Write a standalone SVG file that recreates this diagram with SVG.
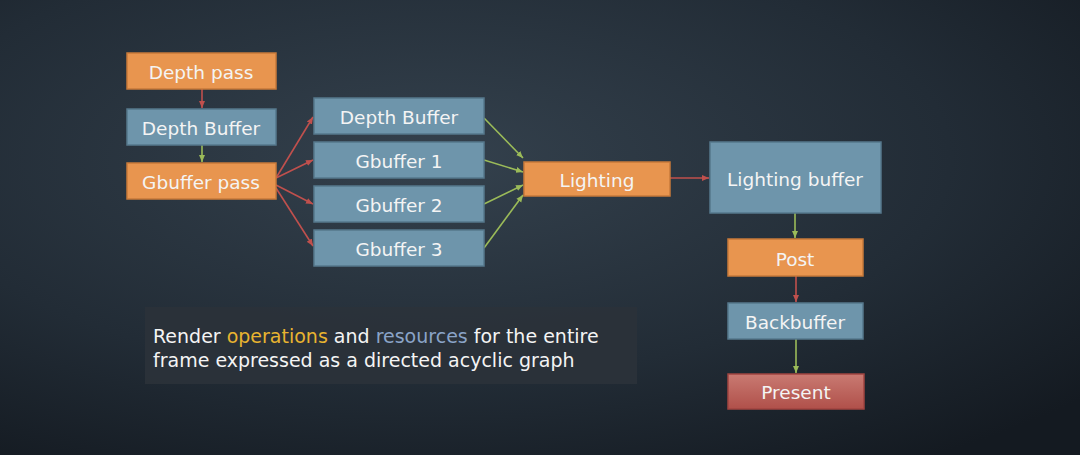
<svg xmlns="http://www.w3.org/2000/svg" width="1080" height="455" viewBox="0 0 1080 455">
<defs>
<radialGradient id="bg" cx="0.4" cy="0.35" r="0.8">
<stop offset="0" stop-color="#34414d"/><stop offset="0.6" stop-color="#222c36"/><stop offset="1" stop-color="#141a21"/>
</radialGradient>
<linearGradient id="pr" x1="0" y1="0" x2="0" y2="1"><stop offset="0" stop-color="#c97a72"/><stop offset="1" stop-color="#b0504a"/></linearGradient>
<marker id="ar" markerWidth="8" markerHeight="8" refX="7" refY="4" orient="auto" markerUnits="userSpaceOnUse"><path d="M0,1 L7,4 L0,7 Z" fill="#c0504d"/></marker>
<marker id="ag" markerWidth="8" markerHeight="8" refX="7" refY="4" orient="auto" markerUnits="userSpaceOnUse"><path d="M0,1 L7,4 L0,7 Z" fill="#9bbb59"/></marker>
<style>
.op rect{fill:#e8954f;stroke:#c77a3a;stroke-width:1.5}
.rs rect{fill:#6e95ab;stroke:#56788c;stroke-width:1.5}
text{font-family:"DejaVu Sans","Open Sans",sans-serif;font-size:18.5px;fill:#f4f4f4;text-anchor:middle;dominant-baseline:central}
.r{stroke:#c0504d;stroke-width:1.6;fill:none;marker-end:url(#ar)}
.g{stroke:#9bbb59;stroke-width:1.6;fill:none;marker-end:url(#ag)}
</style>
</defs>
<rect width="1080" height="455" fill="url(#bg)"/>
<g id="connectors">
<line class="r" x1="202" y1="89" x2="202" y2="108"/>
<line class="g" x1="202" y1="145" x2="202" y2="162"/>
<line class="r" x1="276" y1="178" x2="313" y2="117"/>
<line class="r" x1="276" y1="178" x2="313" y2="160"/>
<line class="r" x1="276" y1="185" x2="313" y2="204"/>
<line class="r" x1="276" y1="188" x2="313" y2="246"/>
<line class="g" x1="484" y1="118" x2="523" y2="158"/>
<line class="g" x1="484" y1="160" x2="523" y2="172"/>
<line class="g" x1="484" y1="204" x2="523" y2="185"/>
<line class="g" x1="484" y1="248" x2="523" y2="195"/>
<line class="r" x1="670" y1="178" x2="709" y2="178"/>
<line class="g" x1="795" y1="213" x2="795" y2="238"/>
<line class="r" x1="796" y1="276" x2="796" y2="302"/>
<line class="g" x1="796" y1="339" x2="796" y2="373"/>
</g>
<g id="depth-pass" class="op"><rect x="127" y="53" width="149" height="36"/><text x="201" y="72">Depth pass</text></g>
<g id="depth-buffer-1" class="rs"><rect x="127" y="109" width="149" height="36"/><text x="201" y="128">Depth Buffer</text></g>
<g id="gbuffer-pass" class="op"><rect x="127" y="163" width="149" height="36"/><text x="201" y="182">Gbuffer pass</text></g>
<g id="depth-buffer-2" class="rs"><rect x="314" y="98" width="170" height="36"/><text x="399" y="117">Depth Buffer</text></g>
<g id="gbuffer-1" class="rs"><rect x="314" y="142" width="170" height="36"/><text x="399" y="161">Gbuffer 1</text></g>
<g id="gbuffer-2" class="rs"><rect x="314" y="186" width="170" height="36"/><text x="399" y="205">Gbuffer 2</text></g>
<g id="gbuffer-3" class="rs"><rect x="314" y="230" width="170" height="36"/><text x="399" y="249">Gbuffer 3</text></g>
<g id="lighting" class="op"><rect x="524" y="162" width="146" height="34"/><text x="597" y="180">Lighting</text></g>
<g id="lighting-buffer" class="rs"><rect x="710" y="142" width="171" height="71"/><text x="795" y="179">Lighting buffer</text></g>
<g id="post" class="op"><rect x="728" y="239" width="135" height="37"/><text x="795" y="259">Post</text></g>
<g id="backbuffer" class="rs"><rect x="728" y="303" width="135" height="36"/><text x="795" y="322">Backbuffer</text></g>
<g id="present"><rect x="728" y="374" width="136" height="35" fill="url(#pr)" stroke="#a04440" stroke-width="1.5"/><text x="796" y="392">Present</text></g>
<g id="caption">
<rect x="145" y="307" width="492" height="77" fill="#2b323a" opacity="0.9"/>
<text x="153" y="336" style="text-anchor:start;font-size:19px">Render <tspan fill="#e8b430">operations</tspan> and <tspan fill="#8aa4c8">resources</tspan> for the entire</text>
<text x="153" y="360" style="text-anchor:start;font-size:19px">frame expressed as a directed acyclic graph</text>
</g>
</svg>
